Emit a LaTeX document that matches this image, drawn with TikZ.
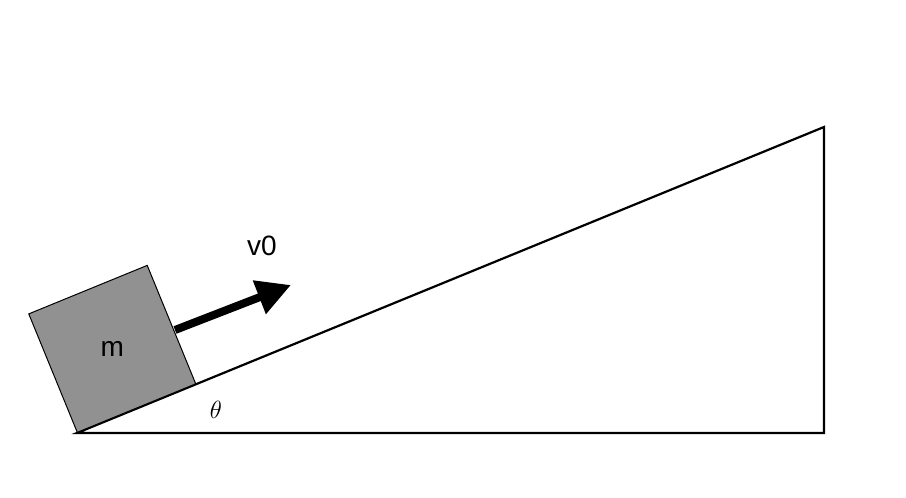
\documentclass[tikz,border=0pt]{standalone}
\usepackage{fontspec}
\setsansfont{Liberation Sans}
\usetikzlibrary{arrows.meta}
\begin{document}
\begin{tikzpicture}[x=1pt,y=1pt,
  edge/.style={line width=2.2pt,line join=miter},
  lbl/.style={font=\fontsize{28}{32}\selectfont\sffamily}]
\useasboundingbox (0,0) rectangle (906,498);
\coordinate (A) at (77,65);
\coordinate (B) at (824,65);
\coordinate (C) at (824,371);
\draw[edge] (A) -- (B) -- (C) -- cycle;
\node[draw,line width=1pt,fill=black!43,minimum size=128pt,inner sep=0,anchor=south west,rotate=22.27] (blk) at (A) {};
\node[lbl] (m) at (blk.center) {m};
\coordinate (a0) at (175,168);
\coordinate (a1) at (291,213);
\draw[line width=8pt,-{Triangle[length=34pt,width=34pt]}] (a0) -- (a1);
\node[lbl] (v) at (262,252) {v0};
\node[font=\fontsize{30}{34}\selectfont] (th) at (216,88) {$\theta$};
\end{tikzpicture}
\end{document}
